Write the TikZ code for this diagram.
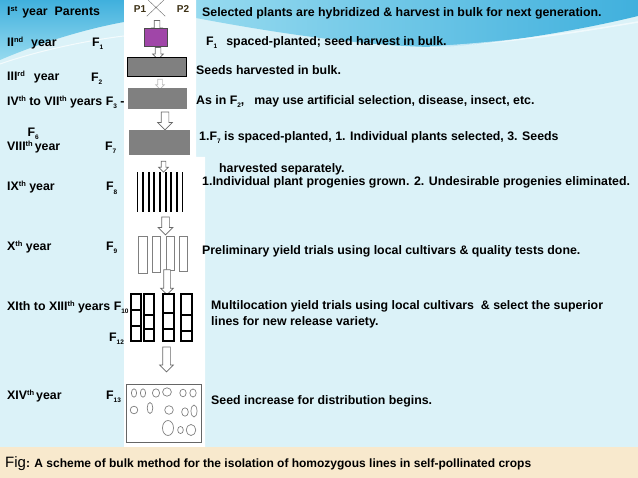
\documentclass[tikz,border=0pt]{standalone}
\usepackage{fontspec}
\setmainfont{Liberation Sans}
\usetikzlibrary{shapes.arrows, positioning, calc}

\definecolor{bgcyan}{RGB}{219,242,248}
\definecolor{swoosh}{RGB}{64,176,221}
\definecolor{swooshlight}{RGB}{150,218,239}
\definecolor{footbeige}{RGB}{248,233,205}
\definecolor{plotgrey}{RGB}{128,128,128}
\definecolor{hybpurple}{RGB}{160,70,168}
\definecolor{arrowgrey}{RGB}{105,105,105}
\definecolor{pcolour}{RGB}{60,48,20}

\newcommand{\sps}[1]{\raisebox{0.65ex}{\fontsize{7.5}{8}\selectfont #1}}
\newcommand{\sbs}[1]{\raisebox{-0.5ex}{\fontsize{6.5}{7}\selectfont #1}}

\begin{document}
\begin{tikzpicture}[
    x=1pt, y=-1pt,
    lbl/.style={anchor=base west, inner sep=0pt, font=\fontsize{12.35}{14}\selectfont\bfseries},
    parent/.style={inner sep=0pt, text=pcolour, font=\fontsize{10}{11}\selectfont\bfseries},
    plot/.style={rectangle, fill=plotgrey, inner sep=0pt},
    barrow/.style n args={3}{single arrow, draw=arrowgrey, fill=white, line width=0.7pt,
      shape border rotate=270, inner sep=#2, minimum height=#1, single arrow head extend=#3},
    line/.style={line width=1.8pt},
    seed/.style={draw=plotgrey, line width=0.7pt},
]

    \useasboundingbox (0,0) rectangle (638,478);

    % background
    \fill[bgcyan] (0,0) rectangle (638,478);
    \shade[top color=swoosh, bottom color=swooshlight]
      (0,0) -- (124,0) -- (124,22) .. controls (80,30) and (35,45) .. (0,60) -- cycle;
    \draw[white, opacity=0.7, line width=1pt] (0,64) .. controls (40,50) and (90,40) .. (124,36);
    \shade[left color=swooshlight, right color=swoosh]
      (196,0) -- (638,0) -- (638,16) .. controls (560,35) and (470,47) .. (430,47)
      .. controls (350,45) and (260,30) .. (196,18) -- cycle;
    \draw[white, opacity=0.6, line width=1.5pt] (430,47) .. controls (520,42) and (590,30) .. (638,22);
    \fill[white] (124,0) -- (196,0) -- (196,157) -- (205,157) -- (205,447) -- (124,447) -- cycle;
    \fill[footbeige] (0,447) rectangle (638,478);

    % parents and F1 to F7
    \node (p1) [parent] at (140,9) {P1};
    \node (p2) [parent] at (183,9) {P2};
    \node (cross) [inner sep=0pt, minimum width=18pt, minimum height=17pt] at (156,7.5) {};
    \draw[arrowgrey] (cross.north west) -- (cross.south east) (cross.north east) -- (cross.south west);

    \node (a1) [barrow={13pt}{2.5pt}{2.5pt}] at (157,25.5) {};
    \node (f1box) [draw=black!70, fill=hybpurple, minimum width=23pt, minimum height=18pt] at (155.5,37) {};
    \node (a2) [barrow={12pt}{2.5pt}{2.5pt}] at (158,52) {};
    \node (bulk2) [plot, draw=black, minimum width=59pt, minimum height=19pt] at (156.5,66.5) {};
    \node (a3) [barrow={10pt}{2pt}{2pt}, draw=black!25] at (160,83) {};
    \node (bulk3) [plot, minimum width=59pt, minimum height=21pt] at (157.5,98.5) {};
    \node (a4) [barrow={18pt}{3.5pt}{3.5pt}] at (165,119) {};
    \node (bulk7) [plot, minimum width=61pt, minimum height=25pt] at (159.5,142.5) {};
    \node (a5) [barrow={11pt}{2pt}{2.5pt}] at (163.5,165.5) {};

    % F8 progeny rows
    \foreach \i in {0,...,8}
      \draw[line] ({137.5+5.625*\i},172.5) -- ++(0,40);
    \node (a6) [barrow={18pt}{3.5pt}{3.5pt}] at (165.5,224) {};

    % F9 plots
    \foreach \xa/\xb/\yb in {138/147/274, 152/160/273, 166/174/271, 179/187/272}
      \draw[plotgrey, line width=1pt, fill=white] (\xa,237) rectangle (\xb,\yb);
    \node (a7) [barrow={25pt}{3pt}{3pt}] at (167,280.5) {};

    % F10 to F12 multilocation plots
    \foreach \xa/\xb/\ya/\yb in {131/141/310/326, 144/154/315/329, 163/174/313/329, 181/192/315/331} {
      \draw[line] (\xa,294) rectangle (\xb,341);
      \draw[line] (\xa,\ya) -- (\xb,\ya) (\xa,\yb) -- (\xb,\yb);
    }
    \node (a8) [barrow={25pt}{3.5pt}{3pt}] at (166.5,357.5) {};

    % F13 seed increase
    \node (seedbox) [draw=black!60, fill=white, line width=0.8pt, minimum width=75pt, minimum height=58pt] at (163.5,413) {};
    \foreach \cx/\cy/\rx/\ry in {134/393/2.6/4.2, 143/393/2.6/4.2, 156/393/3.6/4.2, 167/392/4.4/4.2,
        183/393/3.2/3.8, 193/393/3.2/4, 134/410/3.8/3.8, 150/408/2.8/5.5, 169/410/4.3/4.3,
        185/412/3.3/4.2, 194/411/3/6, 168/428/5.5/7.5, 180.5/430/2.8/3.6, 191/430/4.8/5.5}
      \draw[seed] (\cx,\cy) ellipse [x radius=\rx pt, y radius=\ry pt];

    % years and generations
    \node (ly1) [lbl] at (7,16) {I\sps{st}\hspace{5pt}year\hspace{7pt}Parents};
    \node (ly2) [lbl] at (7,46.5) {II\sps{nd}\hspace{8pt}year};
    \node (lf1) [lbl] at (92,46.5) {F\sbs{1}};
    \node (ly3) [lbl] at (7,81) {III\sps{rd}\hspace{9pt}year};
    \node (lf2) [lbl] at (91,81.5) {F\sbs{2}};
    \node (ly4) [lbl] at (7,105.5) {IV\sps{th} to VII\sps{th} years F\sbs{3} -};
    \node (lf6) [lbl] at (27.5,136.5) {F\sbs{6}};
    \node (ly8) [lbl] at (7,150.5) {VIII\sps{th}\,year};
    \node (lf7) [lbl] at (105,150.5) {F\sbs{7}};
    \node (ly9) [lbl] at (7,190.5) {IX\sps{th} year};
    \node (lf8) [lbl] at (106,191) {F\sbs{8}};
    \node (ly10) [lbl] at (7,250.5) {X\sps{th} year};
    \node (lf9) [lbl] at (106,250.5) {F\sbs{9}};
    \node (ly11) [lbl] at (7,310.5) {XIth to XIII\sps{th} years F\sbs{10}};
    \node (lf12) [lbl] at (109,341.5) {F\sbs{12}};
    \node (ly14) [lbl] at (7,399.5) {XIV\sps{th}\,year};
    \node (lf13) [lbl] at (106,399.5) {F\sbs{13}};

    % notes
    \node (r1) [lbl] at (202,16.5) {Selected plants are hybridized \& harvest in bulk for next generation.};
    \node (r2) [lbl] at (206,45.5) {F\sbs{1}\hspace{9pt}spaced-planted; seed harvest in bulk.};
    \node (r3) [lbl] at (196,74.5) {Seeds harvested in bulk.};
    \node (r4) [lbl] at (196,104.5) {As in F\sbs{2},\hspace{10pt}may use artificial selection, disease, insect, etc.};
    \node (r5) [lbl] at (199,140.5) {1.F\sbs{7} is spaced-planted, 1. Individual plants selected, 3. Seeds};
    \node (r6) [lbl] at (219,172.5) {harvested separately.};
    \node (r7) [lbl] at (202,185.5) {1.Individual plant progenies grown. 2. Undesirable progenies eliminated.};
    \node (r8) [lbl] at (202,254.5) {Preliminary yield trials using local cultivars \& quality tests done.};
    \node (r9) [lbl] at (211,309.5) {Multilocation yield trials using local cultivars\ \ \& select the superior};
    \node (r10) [lbl] at (211,325.5) {lines for new release variety.};
    \node (r11) [lbl] at (211,404.5) {Seed increase for distribution begins.};

    \node (fig) [lbl, font=\fontsize{12}{14}\selectfont\bfseries] at (5,467.5) {{\mdseries\fontsize{15}{17}\selectfont Fig}: A scheme of bulk method for the isolation of homozygous lines in self-pollinated crops};

\end{tikzpicture}
\end{document}
